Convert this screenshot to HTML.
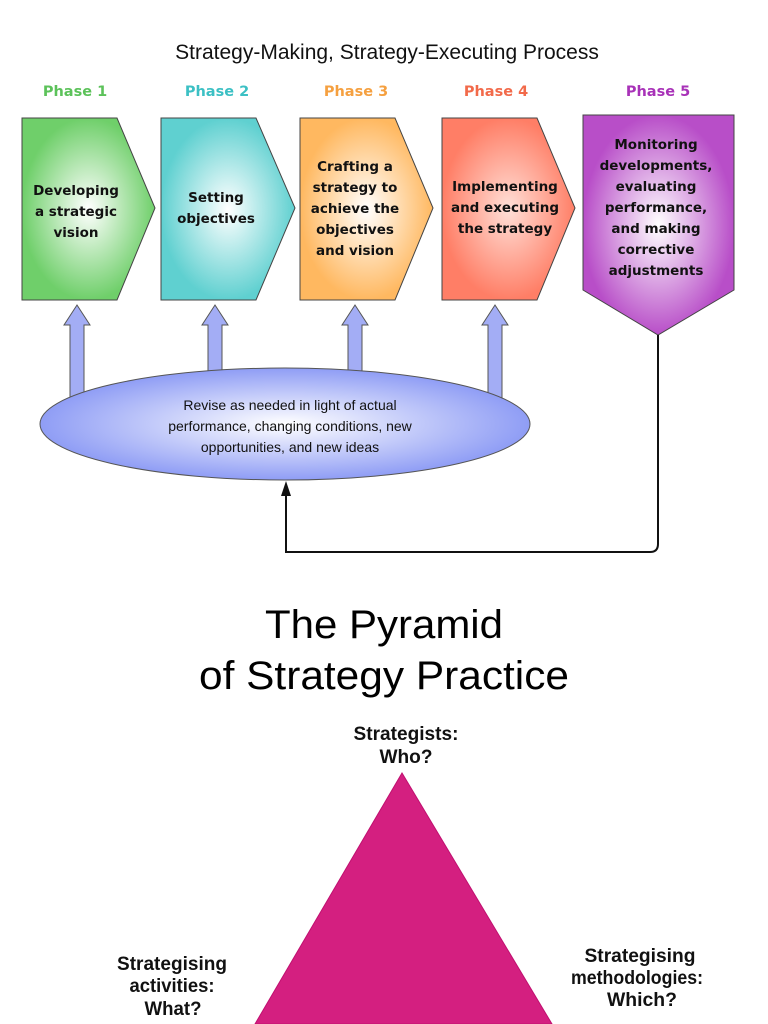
<!DOCTYPE html>
<html><head><meta charset="utf-8"><style>
html,body{margin:0;padding:0;background:#fff}
svg{display:block}
.b{font-family:"DejaVu Sans","Liberation Sans",sans-serif;font-weight:bold;font-size:13.5px;fill:#111;text-anchor:middle}
.ph{font-family:"DejaVu Sans","Liberation Sans",sans-serif;font-weight:bold;font-size:14.5px;text-anchor:middle}
.n{font-family:"Liberation Sans",sans-serif;font-weight:bold;font-size:19px;fill:#111;text-anchor:middle}
</style></head><body>
<svg width="768" height="1024" viewBox="0 0 768 1024" xmlns="http://www.w3.org/2000/svg">
<defs>
<radialGradient id="g1"><stop offset="0" stop-color="#fff"/><stop offset="1" stop-color="#6fcf6a"/></radialGradient>
<radialGradient id="g2"><stop offset="0" stop-color="#fff"/><stop offset="1" stop-color="#5fd0d0"/></radialGradient>
<radialGradient id="g3"><stop offset="0" stop-color="#fff"/><stop offset="1" stop-color="#ffb860"/></radialGradient>
<radialGradient id="g4"><stop offset="0" stop-color="#ffe0d8"/><stop offset="1" stop-color="#ff7e66"/></radialGradient>
<radialGradient id="g5"><stop offset="0" stop-color="#fff"/><stop offset="1" stop-color="#b84ec8"/></radialGradient>
<radialGradient id="ge"><stop offset="0" stop-color="#fff"/><stop offset="1" stop-color="#8f9df5"/></radialGradient>
</defs>
<text x="387" y="59" font-family="Liberation Sans,sans-serif" font-size="21" text-anchor="middle" fill="#111">Strategy-Making, Strategy-Executing Process</text>
<text class="ph" x="75" y="96" fill="#5cc25a">Phase 1</text>
<text class="ph" x="217" y="96" fill="#3cc0c4">Phase 2</text>
<text class="ph" x="356" y="96" fill="#f5a040">Phase 3</text>
<text class="ph" x="496" y="96" fill="#f26a4a">Phase 4</text>
<text class="ph" x="658" y="96" fill="#a832b8">Phase 5</text>
<g stroke="#444" stroke-width="1">
<polygon points="22,118 117,118 155,208 117,300 22,300" fill="url(#g1)"/>
<polygon points="161,118 256,118 295,208 256,300 161,300" fill="url(#g2)"/>
<polygon points="300,118 395,118 433,208 395,300 300,300" fill="url(#g3)"/>
<polygon points="442,118 537,118 575,208 537,300 442,300" fill="url(#g4)"/>
<polygon points="583,115 734,115 734,290 658,335 583,290" fill="url(#g5)"/>
</g>
<g fill="#a3adf5" stroke="#555" stroke-width="1">
<polygon points="70,400 70,325 64,325 77,305 90,325 84,325 84,400"/>
<polygon points="208,400 208,325 202,325 215,305 228,325 222,325 222,400"/>
<polygon points="348,400 348,325 342,325 355,305 368,325 362,325 362,400"/>
<polygon points="488,400 488,325 482,325 495,305 508,325 502,325 502,400"/>
</g>
<ellipse cx="285" cy="424" rx="245" ry="56" fill="url(#ge)" stroke="#555"/>
<path d="M658,335 L658,544 Q658,552 650,552 L286,552 L286,494" fill="none" stroke="#111" stroke-width="2"/>
<polygon points="281,496 286,481 291,496" fill="#111"/>
<g class="b">
<text x="76" y="195">Developing</text><text x="76" y="216">a strategic</text><text x="76" y="237">vision</text>
<text x="216" y="202">Setting</text><text x="216" y="223">objectives</text>
<text x="355" y="171">Crafting a</text><text x="355" y="192">strategy to</text><text x="355" y="213">achieve the</text><text x="355" y="234">objectives</text><text x="355" y="255">and vision</text>
<text x="505" y="191">Implementing</text><text x="505" y="212">and executing</text><text x="505" y="233">the strategy</text>
<text x="656" y="149">Monitoring</text><text x="656" y="170">developments,</text><text x="656" y="191">evaluating</text><text x="656" y="212">performance,</text><text x="656" y="233">and making</text><text x="656" y="254">corrective</text><text x="656" y="275">adjustments</text>
</g>
<g font-family="Liberation Sans,sans-serif" font-size="14" text-anchor="middle" fill="#111">
<text x="290" y="410">Revise as needed in light of actual</text>
<text x="290" y="431">performance, changing conditions, new</text>
<text x="290" y="452">opportunities, and new ideas</text>
</g>
<g font-family="Liberation Sans,sans-serif" font-size="40" text-anchor="middle" fill="#000">
<text x="384" y="638" textLength="238" lengthAdjust="spacingAndGlyphs">The Pyramid</text>
<text x="384" y="689" textLength="370" lengthAdjust="spacingAndGlyphs">of Strategy Practice</text>
</g>
<polygon points="402,773 255,1024 552,1024" fill="#d41f80" stroke="#c01070"/>
<g class="n">
<text x="406" y="740" textLength="105" lengthAdjust="spacingAndGlyphs">Strategists:</text><text x="406" y="763" textLength="53" lengthAdjust="spacingAndGlyphs">Who?</text>
<text x="172" y="970" textLength="110" lengthAdjust="spacingAndGlyphs">Strategising</text><text x="172" y="992" textLength="85" lengthAdjust="spacingAndGlyphs">activities:</text><text x="173" y="1015" textLength="57" lengthAdjust="spacingAndGlyphs">What?</text>
<text x="640" y="962" textLength="111" lengthAdjust="spacingAndGlyphs">Strategising</text><text x="637" y="984" textLength="132" lengthAdjust="spacingAndGlyphs">methodologies:</text><text x="642" y="1006" textLength="70" lengthAdjust="spacingAndGlyphs">Which?</text>
</g>
</svg>
</body></html>
